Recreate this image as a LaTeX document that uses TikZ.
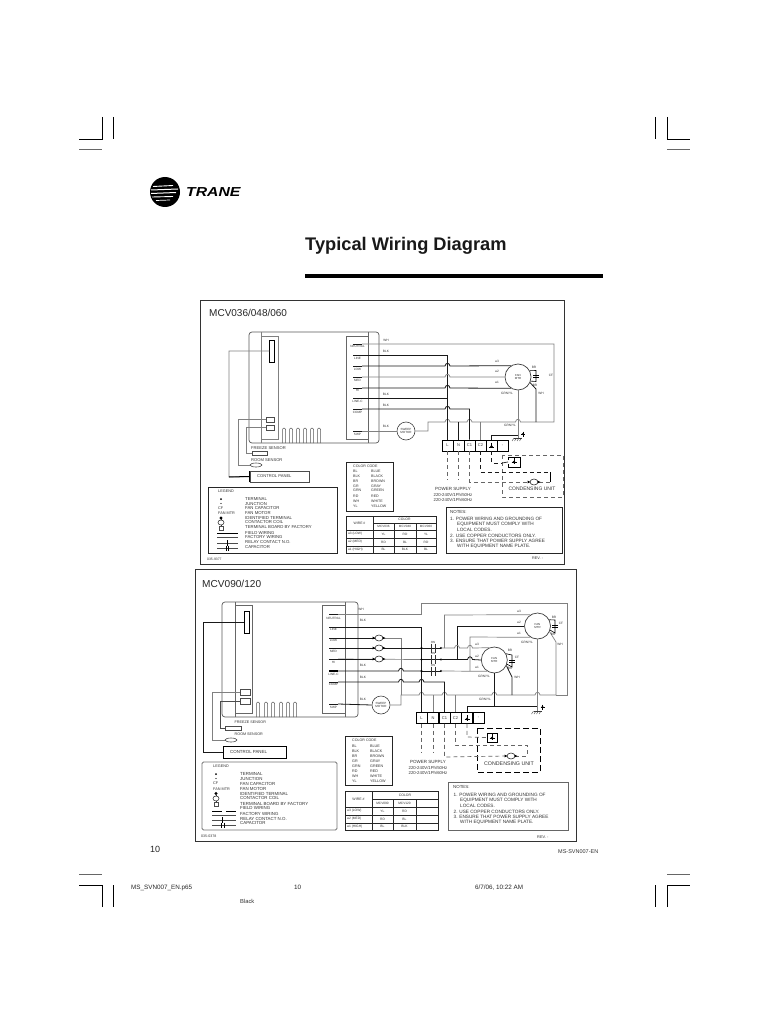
\documentclass[tikz,border=0pt]{standalone}
\usepackage{fontspec}
\setmainfont{Liberation Sans}
\usetikzlibrary{shapes.geometric}
\newcounter{tn}
\newcommand\fz[1]{\fontsize{#1}{#1}\selectfont}
\tikzset{
 lbl/.style={inner sep=0pt,text=black!80,font=\fz{3.8}},
 wk/.style={draw=black!90,line width=.8pt},
 wg/.style={draw=black!50,line width=.7pt},
 bd/.style={draw=black!80,line width=.8pt},
 tb/.style={draw=black!85,line width=.8pt},
 thinb/.style={draw=black!60,line width=.6pt},
 dsh/.style={draw=black!60,line width=.7pt,dash pattern=on 4pt off 3pt},
 dshk/.style={draw=black!90,line width=.8pt,dash pattern=on 4pt off 3pt},
 dshb/.style={draw=black,line width=1pt,dash pattern=on 6pt off 3pt},
 crop/.style={draw=black,line width=.7pt},
 cropg/.style={draw=black!60,line width=1pt},
 cell/.style={draw=black,line width=.9pt,minimum width=11pt,minimum height=11pt,inner sep=0pt,text=black!80,font=\fz{4}},
 mot/.style={draw=black!75,line width=.7pt,circle,minimum size=26pt,inner sep=0pt,fill=white,align=center,font=\fz{2.9},text=black!80},
 swp/.style={draw=black!75,line width=.6pt,circle,minimum size=18pt,inner sep=0pt,fill=white,align=center,font=\fz{3},text=black!80},
 coil/.style={draw=black!80,line width=.6pt,ellipse,minimum width=8pt,minimum height=6pt,inner sep=0pt,fill=white},
}
\newcommand\tx[4][]{\stepcounter{tn}\node[lbl,anchor=west,#1] (t\arabic{tn}) at (#2,#3) {#4};}
\newcommand\tc[4][]{\stepcounter{tn}\node[lbl,#1] (t\arabic{tn}) at (#2,#3) {#4};}
% horizontal wire hopping over a vertical one at x=#1, y=#2 (drawn left to right)
\newcommand\hh[2]{-- (#1-2.5,#2) .. controls (#1-2,#2-3.6) and (#1+2,#2-3.6) .. (#1+2.5,#2)}
\newcommand\gnd[2]{\draw[black!80,line width=.6pt] (#1-4,#2) -- (#1+4,#2);
 \foreach \q in {-4,-1.5,1,3.5}{\draw[black!70,line width=.4pt] (#1+\q,#2) -- (#1+\q-2,#2+3);}
 \fill[black] (#1+5,#2-4) circle (1.1pt);
 \draw[black,line width=.4pt] (#1+5,#2-6.5) -- (#1+5,#2-1.5) (#1+3,#2-4) -- (#1+7,#2-4);}
\newcommand\gsym[2]{\fill[black] (#1,#2+1) circle (1.3pt);
 \draw[black,line width=.6pt] (#1,#2-3) -- (#1,#2+2.5) (#1-2.5,#2+1.5) -- (#1+2.5,#2+1.5);}
\newcommand\cfmark[2]{\draw[black,line width=.6pt] (#1-3,#2) -- (#1+3,#2) (#1-3,#2+2) -- (#1+3,#2+2);}
\newcommand\coilarrows[2]{\fill[black] (#1-6.5,#2-1.4) -- (#1-3.5,#2) -- (#1-6.5,#2+1.4) -- cycle;
 \fill[black] (#1+3.5,#2-1.4) -- (#1+6.5,#2) -- (#1+3.5,#2+1.4) -- cycle;}
\begin{document}
\begin{tikzpicture}[x=1pt,y=-1pt]
\useasboundingbox (0,0) rectangle (768,1024);
\fill[white] (0,0) rectangle (768,1024);

% crop marks
\draw[crop] (102,117) -- (102,139) -- (79,139);
\draw[crop] (113,117) -- (113,139);
\draw[cropg] (79,150) -- (102,150);
\draw[crop] (667,117) -- (667,139) -- (690,139);
\draw[crop] (655,117) -- (655,139);
\draw[cropg] (667,150) -- (690,150);
\draw[crop] (102,907) -- (102,885) -- (79,885);
\draw[crop] (113,885) -- (113,907);
\draw[cropg] (79,874) -- (102,874);
\draw[crop] (667,907) -- (667,885) -- (690,885);
\draw[crop] (655,885) -- (655,907);
\draw[cropg] (667,874) -- (690,874);

% logo
\fill[black] (165,192) circle (15pt);
\draw[white,line width=.9pt] (153,186.5) -- (173,185.5);
\draw[white,line width=1pt] (151,190) -- (178,189);
\draw[white,line width=1pt] (151,193.5) -- (176,192.5);
\draw[white,line width=.9pt] (152,197) -- (173,196.5);
\draw[white,line width=.7pt] (156,200.5) -- (170,200);
\tx[font=\fz{13}\bfseries\itshape,text=black]{186}{192}{\scalebox{1.21}[1]{TRANE}}
\fill[black] (240,187.5) circle (.7pt);

% title
\tx[font=\fz{18.25}\bfseries,text=black!90]{305}{245.5}{Typical Wiring Diagram}
\draw[black,line width=4pt] (305,276) -- (603,276);

%% ---------------- PANEL 1
\draw[bd] (200,300) rectangle (564.5,564);
\tx[font=\fz{10},text=black!85]{209}{313}{MCV036/048/060}
\draw[draw=black!65,line width=.7pt,rounded corners=3pt] (249,332) rectangle (379,443);
\draw[wg] (261,332) -- (261,443);
\draw[thinb] (368,332) -- (368,443);
\draw[wg] (261,336) -- (278.5,336) -- (278.5,439) -- (261,439);
\draw[thinb] (368,336) -- (346,336) -- (346,439) -- (368,439);
\node[draw=black,line width=.8pt,minimum width=4.5pt,minimum height=22pt,inner sep=0,fill=white] (A-conn) at (272,351) {};
\node[draw=black!70,line width=.6pt,minimum width=8.5pt,minimum height=5pt,inner sep=0] (A-b1) at (270.5,419.5) {};
\node[draw=black!70,line width=.6pt,minimum width=8.5pt,minimum height=5pt,inner sep=0] (A-b2) at (270.5,427.5) {};
\foreach \x in {284,291,298,305,312,319}{\draw[black!65,line width=.5pt,rounded corners=1.2pt] (\x-1.5,443) -- (\x-1.5,428) -- (\x+1.5,428) -- (\x+1.5,443);}
\node[draw=black!70,line width=.6pt,minimum width=15pt,minimum height=4pt,inner sep=0] (A-fz) at (259.5,453) {};
\node[draw=black!70,line width=.6pt,ellipse,minimum width=12pt,minimum height=4pt,inner sep=0] (A-rm) at (256,465) {};
\node[draw=black!70,line width=.7pt,minimum width=59pt,minimum height=11pt,inner sep=0] (A-cp) at (279.5,476.5) {};
\tx[font=\fz{4.1}]{257}{476.5}{CONTROL PANEL}
\tx[font=\fz{4.1}]{251}{448.5}{FREEZE SENSOR}
\tx[font=\fz{4.1}]{251}{460}{ROOM SENSOR}
\draw[wg] (A-conn.west) -- (229,351) -- (229,477) -- (A-cp.west);
\draw[black,line width=1.4pt] (A-cp.south west) -- (A-cp.north west);
\draw[black,line width=1pt] (229,477) -- (A-cp.west);
\draw[wg] (A-b1.west) -- (238,419.5) -- (238,465) -- (A-rm.west);
\draw[wg] (A-b2.west) -- (246,427.5) -- (246,453) -- (A-fz.west);
% terminal bars
\foreach \n/\y/\l/\ly in {neu/344/NEUTRAL/346.5,line/355/LINE/358,low/366/LOW/369,med/377/MED/380,hi/388/HI/390.5,linec/398/LINE-C/401,comp/409/COMP/412,swp/431/SWP/434}{
 \coordinate (A-\n) at (362,\y);
 \draw[black!90,line width=1pt] (353,\y) -- (A-\n);
 \tc[font=\fz{3.1}]{357.5}{\ly}{\l}
}
% terminal block
\foreach \n/\x/\l in {L/447.5/L,N/458.5/N,Ca/469.5/C1,Cb/480.5/C2,G/491.5/{},M/502.5/-}{
 \node[cell] (A-\n) at (\x,445.5) {\l};
}
\gsym{491.5}{445.5}
\node[mot] (A-m) at (518,377) {FAN\\MTR};
\node[swp] (A-s) at (406,431) {SWEEP\\MOTOR};
% wires
\draw[wg] (A-s.east) -- (428,431) -- (428,422) \hh{447.5}{422} \hh{469.5}{422} \hh{518}{422} -- (554,422) -- (554,344) -- (A-neu);
\draw[wk] (A-line) -- (447.5,355) -- (A-L.north);
\draw[wk] (A-low) \hh{447.5}{366} -- (A-m.122);
\draw[wg] (A-med) \hh{447.5}{377} -- (A-m.west);
\draw[wk] (A-hi) \hh{447.5}{388} -- (A-m.238);
\draw[wk] (A-linec) -- (447.5,398);
\draw[wk] (A-comp) \hh{447.5}{409} -- (469.5,409) -- (A-Ca.north);
\draw[wk] (458.5,422) -- (A-N.north);
\draw[wg] (480.5,422) -- (A-Cb.north);
\draw[wg] (A-swp) -- (A-s.west);
\draw[wg] (A-m.south) -- (518,435);
\draw[wk] (518,435) -- (491.5,435) -- (A-G.north);
\draw[wk] (A-m.-25) -- (536,389) -- (536,422);
\draw[black,line width=.6pt] (A-m.28) -- (536,370.5) -- (536,381.5) -- (A-m.-18);
\cfmark{536}{375}
\draw[wg] (518,435) -- (518,438);
\gnd{518}{438}
\tc[font=\fz{3.2}]{386}{340}{WH}
\tc[font=\fz{3.2}]{386}{351}{BLK}
\tc[font=\fz{3.2}]{386}{394}{BLK}
\tc[font=\fz{3.2}]{386}{405}{BLK}
\tc[font=\fz{3.2}]{386}{426}{BLK}
\tc[font=\fz{3.2}]{497}{361}{a3}
\tc[font=\fz{3.2}]{497}{371}{a2}
\tc[font=\fz{3.2}]{497}{382}{a1}
\tc[font=\fz{3.2}]{507}{393}{GRN/YL}
\tc[font=\fz{3.2}]{534}{367}{BR}
\tc[font=\fz{3.2}]{551}{375}{CF}
\tc[font=\fz{3.2}]{535}{385}{BR}
\tc[font=\fz{3.2}]{541}{393}{WH}
\tc[font=\fz{3.2}]{510}{425}{GRN/YL}
% condensing unit
\draw[dsh] (502,455) rectangle (563,497);
\draw[black,line width=1pt] (508,460) -- (508,457) -- (520,457) -- (520,467) -- (508,467) -- (508,464);
\coordinate (A-tm) at (508,462);
\gsym{514}{461}
\node[coil] (A-c) at (534,482) {};
\draw[dsh] (A-L.south) -- (447.5,480);
\draw[dsh] (A-N.south) -- (458.5,480);
\draw[dsh] (A-Ca.south) -- (469.5,482) -- (A-c.west);
\draw[dshk] (A-Cb.south) -- (480.5,472) -- (550,472);
\draw[black,line width=.9pt] (550,472) -- (550,482);
\draw[dsh] (550,482) -- (A-c.east);
\draw[dshk] (A-G.south) -- (491.5,463) -- (502,463);
\draw[black!80,line width=.8pt] (502,463) -- (A-tm);
\coilarrows{534}{482}
\tc[font=\fz{5}]{532}{489}{CONDENSING UNIT}
\tc[font=\fz{4.5}]{453}{489}{POWER SUPPLY}
\tc[font=\fz{4.3}]{453}{494.5}{220-240V/1Ph/50Hz}
\tc[font=\fz{4.3}]{453}{499.5}{220-240V/1Ph/60Hz}
% colour code
\draw[tb] (346,462) rectangle (393,511);
\tx[font=\fz{3.6}]{353}{466}{COLOR CODE}
\foreach \a/\b/\y in {BL/BLUE/471,BLK/BLACK/476,BR/BROWN/481,GR/GRAY/486,GRN/GREEN/490.5,RD/RED/496,WH/WHITE/501,YL/YELLOW/506}{
 \tx[font=\fz{3.6}]{353}{\y}{\a}
 \tx[font=\fz{3.6}]{371}{\y}{\b}
}
% wire table
\draw[tb] (346,516) rectangle (436,553);
\draw[tb] (373,516) -- (373,553) (373,523) -- (436,523) (346,530) -- (436,530) (346,538) -- (436,538) (346,546) -- (436,546);
\draw[tb] (394,523) -- (394,553) (416,523) -- (416,553);
\tc[font=\fz{3.4}]{359.5}{523}{WIRE \#}
\tc[font=\fz{3.4}]{404.5}{519.5}{COLOR}
\tc[font=\fz{3.1}]{383.5}{526.5}{MCV036}
\tc[font=\fz{3.1}]{405}{526.5}{MCV048}
\tc[font=\fz{3.1}]{426}{526.5}{MCV060}
\foreach \w/\p/\q/\r/\y in {a3 (LOW)/YL/RD/YL/534,a2 (MED)/RD/BL/RD/542,a1 (HIGH)/BL/BLK/BL/549.5}{
 \tx[font=\fz{3.2}]{348}{\y}{\w}
 \tc[font=\fz{3.2}]{383.5}{\y}{\p}
 \tc[font=\fz{3.2}]{405}{\y}{\q}
 \tc[font=\fz{3.2}]{426}{\y}{\r}
}
% notes
\draw[tb] (446,507) rectangle (562,553);
\tx[font=\fz{4.4}]{450}{512}{NOTES:}
\tx[font=\fz{4.7}]{450}{518.5}{1. POWER WIRING AND GROUNDING OF}
\tx[font=\fz{4.7}]{457}{524}{EQUIPMENT MUST COMPLY WITH}
\tx[font=\fz{4.7}]{457}{529.5}{LOCAL CODES.}
\tx[font=\fz{4.7}]{450}{535.5}{2. USE COPPER CONDUCTORS ONLY.}
\tx[font=\fz{4.7}]{450}{540.5}{3. ENSURE THAT POWER SUPPLY AGREE}
\tx[font=\fz{4.7}]{457}{546}{WITH EQUIPMENT NAME PLATE.}
\tx[font=\fz{3.8}]{532}{558}{REV. -}
% legend
\draw[tb,line width=1pt] (208,487) rectangle (337,553);
\tx{218}{491.5}{LEGEND}
\foreach \s/\y in {TERMINAL/499,JUNCTION/504,FAN CAPACITOR/508.5,FAN MOTOR/513,IDENTIFIED TERMINAL/518,CONTACTOR COIL/522.5,TERMINAL BOARD BY FACTORY/527.5,FIELD WIRING/533,FACTORY WIRING/537.5,RELAY CONTACT N.O./542.5,CAPACITOR/547.5}{
 \tx[font=\fz{4.3}]{245}{\y}{\s}
}
\fill[black] (221,499) circle (1pt);
\fill[black] (221,503.5) circle (.7pt);
\tx{218}{508.5}{CF}
\tx{218}{513}{FAN MTR}
\fill[black] (221,518) circle (1.7pt);
\node[coil,minimum width=6pt,minimum height=5pt] (A-k) at (221,522.5) {};
\draw[black!80,line width=.5pt] (221,519) -- (A-k.north) (A-k.south) -- (221,526);
\node[draw=black!70,line width=.5pt,minimum width=4pt,minimum height=4pt,inner sep=0] (A-tbx) at (221,528) {};
\draw[black,line width=.9pt] (217,533.5) -- (238,533.5);
\draw[black!70,line width=.7pt] (217,537.5) -- (238,537.5);
\draw[black!70,line width=.6pt] (217,543) -- (238,543);
\draw[black,line width=.7pt] (227,540) -- (227,546);
\draw[black!70,line width=.6pt] (217,548) -- (238,548);
\draw[black,line width=.6pt] (226,545.5) -- (226,550.5) (228.5,545.5) -- (228.5,550.5);
\tx[font=\fz{3.4}]{207}{559}{035-9377}

%% ---------------- PANEL 2
\draw[bd] (195,569) rectangle (576,841);
\tx[font=\fz{10.1},text=black!85]{202}{584}{MCV090/120}
\draw[draw=black!65,line width=.7pt,rounded corners=3pt] (222,602) rectangle (358,717);
\draw[thinb] (235,602) -- (235,717);
\draw[thinb] (345,602) -- (345,717);
\draw[thinb] (235,605) -- (252,605) -- (252,713) -- (235,713);
\draw[thinb] (345,605) -- (322,605) -- (322,713) -- (345,713);
\node[draw=black,line width=.9pt,minimum width=5pt,minimum height=22pt,inner sep=0,fill=white] (B-conn) at (246.5,622) {};
\node[draw=black!70,line width=.6pt,minimum width=10pt,minimum height=6pt,inner sep=0] (B-b1) at (245,692) {};
\node[draw=black!70,line width=.6pt,minimum width=10pt,minimum height=6pt,inner sep=0] (B-b2) at (245,701) {};
\foreach \x in {258,266,273,281,288,295}{\draw[black!65,line width=.5pt,rounded corners=1.2pt] (\x-1.5,717) -- (\x-1.5,702) -- (\x+1.5,702) -- (\x+1.5,717);}
\node[draw=black!70,line width=.6pt,minimum width=16pt,minimum height=4pt,inner sep=0] (B-fz) at (233,728) {};
\node[draw=black!70,line width=.6pt,ellipse,minimum width=12pt,minimum height=4pt,inner sep=0] (B-rm) at (231,740) {};
\node[draw=black,line width=1pt,minimum width=63pt,minimum height=12pt,inner sep=0] (B-cp) at (254.5,752) {};
\tx[font=\fz{4.4}]{230}{752}{CONTROL PANEL}
\tx[font=\fz{3.7}]{234.5}{722}{FREEZE SENSOR}
\tx[font=\fz{3.7}]{234.5}{734}{ROOM SENSOR}
\draw[wk] (B-conn.west) -- (203,622) -- (203,752) -- (B-cp.west);
\draw[wg] (B-b1.west) -- (212,692) -- (212,740) -- (B-rm.west);
\draw[wk,draw=black!70] (B-b2.west) -- (220,701) -- (220,728) -- (B-fz.west);
\foreach \n/\y/\l/\ly in {neu/614/NEUTRAL/618,line/627/LINE/629.5,low/638/LOW/640.5,med/648/MED/651,hi/659/HI/662,linec/671/LINE-C/674,comp/682/COMP/684.5,swp/704/SWP/707}{
 \coordinate (B-\n) at (338,\y);
 \draw[black!90,line width=1pt] (329,\y) -- (B-\n);
 \tc[font=\fz{3.1}]{333.5}{\ly}{\l}
}
\draw[black,line width=1.4pt] (329,671) -- (338,671);
\foreach \n/\x/\l in {L/421.5/L,N/433/N,Ca/444.5/C1,Cb/455.5/C2,G/467/{},M/478.5/-}{
 \node[cell] (B-\n) at (\x,718) {\l};
}
\gsym{467}{718}
\node[mot] (B-ma) at (537.5,626) {FAN\\MTR};
\node[mot] (B-mb) at (494.3,660) {FAN\\MTR};
\node[swp] (B-s) at (381,705) {SWEEP\\MOTOR};
% wires
\draw[wg] (B-neu) -- (421.5,614) -- (421.5,603) -- (567,603) -- (567,695) -- (556,695);
\draw[wg] (B-s.east) -- (401,705) -- (401,695) \hh{421.5}{695} \hh{444.5}{695} \hh{494.3}{695} \hh{537.5}{695} -- (556,695);
\draw[wk] (B-line) -- (421.5,627) -- (B-L.north);
\draw[wg] (B-low) -- (401,638) -- (401,695);
\draw[wk] (B-low) -- (376,638);
\draw[wk] (B-med) -- (421.5,648);
\draw[wg] (B-hi) -- (421.5,659.5);
\draw[wk] (B-hi) -- (376,659);
\draw[wk] (B-linec) \hh{401}{671} -- (421.5,671);
\draw[wk] (B-comp) \hh{401}{682} \hh{421.5}{682} -- (444.5,682) -- (B-Ca.north);
\draw[wg] (433,695) -- (B-N.north);
\draw[wg] (455.5,695) -- (B-Cb.north);
\draw[wk] (B-swp) -- (B-s.west);
\foreach \y in {648,659.5,671}{
 \draw[wk] (421.5,\y) -- (441,\y);
 \fill[black] (421.5,\y) circle (1.1pt);
 \fill[black] (441,\y) circle (1.1pt);
 \draw[black!80,line width=.6pt] (431,\y-4.5) -- (431,\y+4.5) (435,\y-4.5) -- (435,\y+4.5);
 \tc[font=\fz{3}]{433}{\y-6}{3W}
}
\draw[wg] (B-ma.122) -- (444.5,615) -- (444.5,648);
\draw[wk] (B-ma.west) -- (457,626) -- (457,659.5);
\draw[wg] (B-ma.238) -- (470,637) -- (470,671);
\draw[wg] (441,648) -- (444.5,648) \hh{457}{648} \hh{470}{648} -- (B-mb.113);
\draw[wk] (441,659.5) \hh{470}{659.5} -- (B-mb.west);
\draw[wg] (441,671) -- (B-mb.238);
\draw[wg] (B-ma.south) -- (537.5,706);
\draw[wk] (B-mb.south) -- (494.3,706);
\draw[wk] (537.5,706) -- (467,706) -- (B-G.north);
\draw[wg] (537.5,706) -- (537.5,711);
\gnd{537.5}{711}
\draw[wg] (B-ma.-25) -- (556,642) -- (556,695);
\draw[wk] (B-mb.-25) -- (512,677) -- (512,695);
\draw[black,line width=.6pt] (B-ma.28) -- (555,620) -- (555,633) -- (B-ma.-18);
\cfmark{555}{625}
\draw[black,line width=.6pt] (B-mb.28) -- (512,655) -- (512,667) -- (B-mb.-18);
\cfmark{512}{660}
\foreach \x/\y in {379/638,379/648,379/659}{
 \coordinate (B-r\y) at (\x,\y);
 \node[coil] (B-rn\y) at (B-r\y) {};
 \coilarrows{\x}{\y}
}
\tc[font=\fz{3.2}]{361}{609}{WH}
\tc[font=\fz{3.2}]{363}{620}{BLK}
\tc[font=\fz{3.2}]{363}{665}{BLK}
\tc[font=\fz{3.2}]{363}{677}{BLK}
\tc[font=\fz{3.2}]{363}{699}{BLK}
\tc[font=\fz{3.2}]{519}{611}{a3}
\tc[font=\fz{3.2}]{519}{622}{a2}
\tc[font=\fz{3.2}]{519}{633}{a1}
\tc[font=\fz{3.2}]{477}{644}{a3}
\tc[font=\fz{3.2}]{477}{656}{a2}
\tc[font=\fz{3.2}]{477}{667}{a1}
\tc[font=\fz{3.2}]{554}{617}{BR}
\tc[font=\fz{3.2}]{561}{623}{CF}
\tc[font=\fz{3.2}]{553}{634}{BR}
\tc[font=\fz{3.2}]{560}{644}{WH}
\tc[font=\fz{3.2}]{527}{642}{GRN/YL}
\tc[font=\fz{3.2}]{510}{650}{BR}
\tc[font=\fz{3.2}]{517}{657}{CF}
\tc[font=\fz{3.2}]{510}{668}{BR}
\tc[font=\fz{3.2}]{517}{677}{WH}
\tc[font=\fz{3.2}]{484}{676}{GRN/YL}
\tc[font=\fz{3.2}]{485}{699}{GRN/YL}
% condensing unit
\draw[dshb] (477,728) rectangle (540,772);
\node[draw=black,line width=1pt,minimum width=10pt,minimum height=9pt,inner sep=0] (B-t) at (492,737.5) {};
\gsym{492}{737}
\node[coil] (B-c) at (511,756) {};
\draw[dsh] (B-L.south) -- (421.5,752);
\draw[dsh] (B-N.south) -- (433,752);
\draw[dsh] (B-Ca.south) -- (444.5,757) -- (B-c.west);
\draw[dsh] (B-Cb.south) -- (455.5,745) -- (527,745) -- (527,756) -- (B-c.east);
\draw[dsh] (B-G.south) -- (467,737) -- (B-t.west);
\coilarrows{511}{756}
\tc[font=\fz{5.3}]{509}{764}{CONDENSING UNIT}
\tc[font=\fz{4.5}]{428}{762}{POWER SUPPLY}
\tc[font=\fz{4.3}]{428}{768}{220-240V/1Ph/50Hz}
\tc[font=\fz{4.3}]{428}{773}{220-240V/1Ph/60Hz}
% colour code
\draw[tb] (345,736) rectangle (392,785);
\tx[font=\fz{3.6}]{352}{740.5}{COLOR CODE}
\foreach \a/\b/\y in {BL/BLUE/746.5,BLK/BLACK/751.5,BR/BROWN/756,GR/GRAY/761,GRN/GREEN/766,RD/RED/771,WH/WHITE/776,YL/YELLOW/781}{
 \tx[font=\fz{3.7}]{352}{\y}{\a}
 \tx[font=\fz{3.7}]{370}{\y}{\b}
}
% wire table
\draw[tb] (345,791) rectangle (438,830);
\draw[tb] (372,791) -- (372,830) (372,799) -- (438,799) (345,807) -- (438,807) (345,815) -- (438,815) (345,823) -- (438,823);
\draw[tb] (393,799) -- (393,830) (416,799) -- (416,830);
\tc[font=\fz{3.5}]{358.5}{799}{WIRE \#}
\tc[font=\fz{3.5}]{405}{795}{COLOR}
\tc[font=\fz{3.2}]{382.5}{803}{MCV090}
\tc[font=\fz{3.2}]{404.5}{803}{MCV120}
\foreach \w/\p/\q/\y in {a3 (LOW)/YL/RD/811,a2 (MED)/RD/BL/819,a1 (HIGH)/BL/BLK/826.5}{
 \tx[font=\fz{3.3}]{347}{\y}{\w}
 \tc[font=\fz{3.3}]{382.5}{\y}{\p}
 \tc[font=\fz{3.3}]{404.5}{\y}{\q}
}
% notes
\draw[thinb,line width=.8pt] (448,782) rectangle (568,830);
\tx[font=\fz{4.4}]{453}{787}{NOTES:}
\tx[font=\fz{4.7}]{453.5}{795}{1. POWER WIRING AND GROUNDING OF}
\tx[font=\fz{4.7}]{460}{800.5}{EQUIPMENT MUST COMPLY WITH}
\tx[font=\fz{4.7}]{460}{806}{LOCAL CODES.}
\tx[font=\fz{4.7}]{453.5}{811.5}{2. USE COPPER CONDUCTORS ONLY.}
\tx[font=\fz{4.7}]{453.5}{816.5}{3. ENSURE THAT POWER SUPPLY AGREE}
\tx[font=\fz{4.7}]{460}{822.5}{WITH EQUIPMENT NAME PLATE.}
\tx[font=\fz{3.9}]{537}{837}{REV. -}
% legend
\draw[draw=black!55,line width=.9pt,rounded corners=1.5pt] (202,762) rectangle (337,830);
\tx{213}{766}{LEGEND}
\foreach \s/\y in {TERMINAL/774,JUNCTION/779,FAN CAPACITOR/783.5,FAN MOTOR/789,IDENTIFIED TERMINAL/793.5,CONTACTOR COIL/798,TERMINAL BOARD BY FACTORY/803.5,FIELD WIRING/808,FACTORY WIRING/814,RELAY CONTACT N.O./818.5,CAPACITOR/823}{
 \tx[font=\fz{4.4}]{240}{\y}{\s}
}
\fill[black] (216,774) circle (1pt);
\fill[black] (216,778.5) circle (.7pt);
\tx{213}{783.5}{CF}
\tx{213}{789}{FAN MTR}
\fill[black] (216,793.5) circle (1.7pt);
\node[coil,minimum width=6pt,minimum height=5pt] (B-k) at (216,798.5) {};
\draw[black!80,line width=.5pt] (216,795) -- (B-k.north) (B-k.south) -- (216,802);
\node[draw=black!70,line width=.5pt,minimum width=4pt,minimum height=4pt,inner sep=0] (B-tbx) at (216,804) {};
\draw[black,line width=.9pt] (212,811.5) -- (222,811.5) (226,811.5) -- (236,811.5);
\draw[black!70,line width=.7pt] (212,815) -- (236,815);
\draw[black!70,line width=.6pt] (212,820) -- (236,820);
\draw[black,line width=.7pt] (222,817) -- (222,823);
\draw[black!70,line width=.6pt] (212,825) -- (236,825);
\draw[black,line width=.6pt] (221.5,822.5) -- (221.5,827.5) (224,822.5) -- (224,827.5);
\tx[font=\fz{3.6}]{201}{836.5}{035-0378}

% page furniture
\tx[font=\fz{9},text=black!85]{150}{849}{10}
\tx[font=\fz{5.5}]{558}{852}{MS-SVN007-EN}
\tx[font=\fz{6.3},text=black!85]{131}{887.5}{MS\_SVN007\_EN.p65}
\tx[font=\fz{6.3},text=black!85]{294}{887.5}{10}
\tx[font=\fz{5.8}]{240}{901.5}{Black}
\tx[font=\fz{6.3},text=black!85]{475}{887.5}{6/7/06, 10:22 AM}
\end{tikzpicture}
\end{document}
